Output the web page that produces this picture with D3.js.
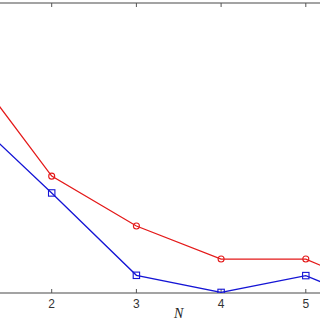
<!DOCTYPE html>
<html>
<head>
<meta charset="utf-8">
<script src="https://d3js.org/d3.v7.min.js"></script>
<style>
  body { margin: 0; background: #fff; }
  svg { display: block; }
</style>
</head>
<body>
<div id="chart"></div>
<script>
// values (y axis labels are cropped out, so a 0..1 scale is used)
var nValues = [1, 2, 3, 4, 5, 6];
var redValues = [0.793, 0.403, 0.231, 0.117, 0.117, -0.008];
var blueValues = [0.621, 0.345, 0.061, 0.002, 0.060, -0.062];
// only the ticks that fall inside the cropped picture
var xTicks = [2, 3, 4, 5];

var width = 320, height = 320;

// plot area runs past the window edges (the picture is a crop)
var x = d3.scaleLinear().domain([1, 6]).range([-33, 390.5]);
var y = d3.scaleLinear().domain([0, 1]).range([293, 3]);

var svg = d3.select('#chart').append('svg')
  .attr('width', width)
  .attr('height', height);

svg.append('clipPath').attr('id', 'plotClip')
  .append('rect')
  .attr('x', x(1)).attr('y', y(1))
  .attr('width', x(6) - x(1)).attr('height', y(0) - y(1));

// axes box lines
svg.append('line')
  .attr('x1', x(1)).attr('x2', x(6))
  .attr('y1', y(0)).attr('y2', y(0))
  .attr('stroke', '#858585').attr('stroke-width', 1.6);
svg.append('line')
  .attr('x1', x(1)).attr('x2', x(6))
  .attr('y1', y(1)).attr('y2', y(1))
  .attr('stroke', '#858585').attr('stroke-width', 1.6);

// ticks (inward, bottom and top)
var ticks = svg.append('g').selectAll('g')
  .data(xTicks)
  .enter();
ticks.append('line')
  .attr('x1', function (d) { return x(d); })
  .attr('x2', function (d) { return x(d); })
  .attr('y1', y(0)).attr('y2', y(0) - 4)
  .attr('stroke', '#555').attr('stroke-width', 1);
ticks.append('line')
  .attr('x1', function (d) { return x(d); })
  .attr('x2', function (d) { return x(d); })
  .attr('y1', y(1)).attr('y2', y(1) + 4)
  .attr('stroke', '#555').attr('stroke-width', 1);
ticks.append('text')
  .text(function (d) { return d; })
  .attr('x', function (d) { return x(d); })
  .attr('y', y(0) + 15)
  .attr('text-anchor', 'middle')
  .attr('font-family', 'Liberation Sans, Arial, sans-serif')
  .attr('font-size', 12)
  .attr('fill', '#333');

// x label
svg.append('text')
  .text('N')
  .attr('x', x(3.5))
  .attr('y', 318)
  .attr('text-anchor', 'middle')
  .attr('font-family', 'Liberation Serif, Times New Roman, serif')
  .attr('font-style', 'italic')
  .attr('font-size', 14)
  .attr('fill', '#222');

var plot = svg.append('g').attr('clip-path', 'url(#plotClip)');

function series(values, color, marker) {
  var pts = nValues.map(function (n, i) { return [n, values[i]]; });
  var line = d3.line()
    .x(function (d) { return x(d[0]); })
    .y(function (d) { return y(d[1]); });
  plot.append('path')
    .datum(pts)
    .attr('d', line)
    .attr('fill', 'none')
    .attr('stroke', color)
    .attr('stroke-width', 1.3);
  var m = plot.append('g').selectAll('.m').data(pts).enter();
  if (marker === 'circle') {
    m.append('circle')
      .attr('cx', function (d) { return x(d[0]); })
      .attr('cy', function (d) { return y(d[1]); })
      .attr('r', 3)
      .attr('fill', 'none')
      .attr('stroke', color)
      .attr('stroke-width', 1.1);
  } else {
    m.append('rect')
      .attr('x', function (d) { return x(d[0]) - 3.2; })
      .attr('y', function (d) { return y(d[1]) - 3.2; })
      .attr('width', 6.4)
      .attr('height', 6.4)
      .attr('fill', 'none')
      .attr('stroke', color)
      .attr('stroke-width', 1.1);
  }
}

series(redValues, '#e41a1a', 'circle');
series(blueValues, '#1515d5', 'square');
</script>
</body>
</html>
